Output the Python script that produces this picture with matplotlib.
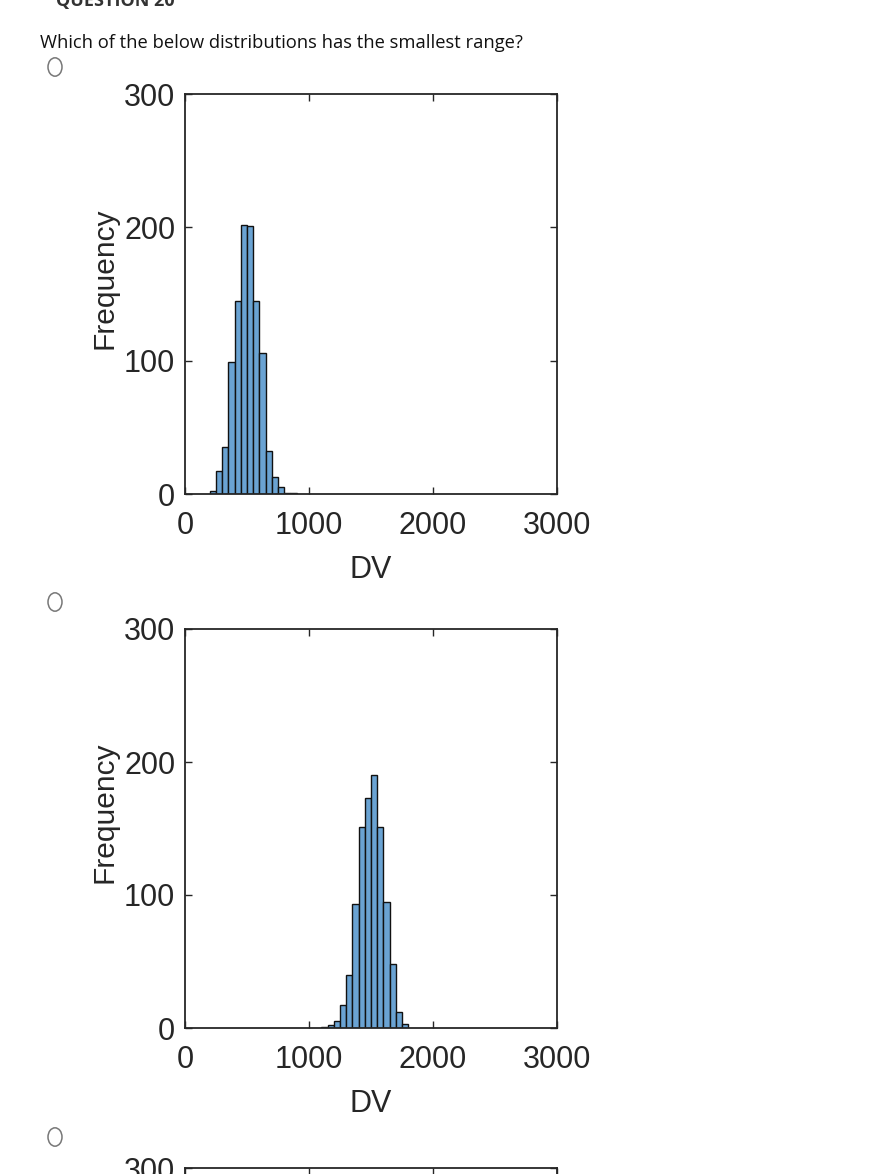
import numpy as np
import matplotlib.pyplot as plt
from matplotlib.patches import Circle

# Histogram data (bin width 50)
bin_width = 50
edges_a = [200, 250, 300, 350, 400, 450, 500, 550, 600, 650, 700, 750, 800, 850]
counts_a = [2, 17, 35, 99, 145, 202, 201, 145, 106, 32, 13, 5, 1, 1]

edges_b = [1100, 1150, 1200, 1250, 1300, 1350, 1400, 1450, 1500, 1550, 1600, 1650, 1700, 1750]
counts_b = [1, 2, 5, 17, 40, 93, 151, 173, 190, 151, 95, 48, 12, 3]

xticks = [0, 1000, 2000, 3000]
yticks = [0, 100, 200, 300]

question = 'Which of the below distributions has the smallest range?'
header = 'QUESTION 20'

W, H = 896, 1174
fig = plt.figure(figsize=(W / 100, H / 100), dpi=100)

def px_axes(left, top, right, bottom):
    return fig.add_axes([left / W, 1 - bottom / H, (right - left) / W, (bottom - top) / H])

def style_axes(ax, labels=True):
    ax.set_xlim(0, 3000)
    ax.set_ylim(0, 300)
    ax.set_xticks(xticks)
    ax.set_yticks(yticks)
    ax.tick_params(direction='in', length=5, width=1, top=True, right=True,
                   labelsize=22, colors='#262626')
    ax.tick_params(axis='x', pad=12)
    ax.tick_params(axis='y', pad=7)
    for lab in ax.get_xticklabels() + ax.get_yticklabels():
        lab.set_fontfamily('Liberation Sans')
    for s in ax.spines.values():
        s.set_color('#262626')
        s.set_linewidth(1.3)
    if labels:
        ax.set_xlabel('DV', fontsize=22, family='Liberation Sans', color='#262626')
        ax.set_ylabel('Frequency', fontsize=21.5, family='Liberation Sans', color='#262626')
        ax.xaxis.set_label_coords(0.5, -0.152)
        ax.yaxis.set_label_coords(-0.18, 0.54)
    else:
        # only the top of this panel is on the page
        ax.tick_params(axis='x', labelbottom=False)
        ax.set_yticklabels(['', '', '', '300'], family='Liberation Sans')

bar_color = '#6aa3d3'

ax1 = px_axes(185, 94, 557, 494)
ax1.bar(edges_a, counts_a, width=bin_width, align='edge', color=bar_color,
        edgecolor='#111111', linewidth=1.0)
style_axes(ax1)

ax2 = px_axes(185, 629, 557, 1028)
ax2.bar(edges_b, counts_b, width=bin_width, align='edge', color=bar_color,
        edgecolor='#111111', linewidth=1.0)
style_axes(ax2)

# third option, cut off by the bottom of the page
ax3 = px_axes(185, 1168, 557, 1568)
style_axes(ax3, labels=False)

# page text
fig.text(40 / W, 1 - 48 / H, question, fontsize=13.2, family='Open Sans', color='#111111')
fig.text(56 / W, 1 - 6 / H, header, fontsize=13, family='Open Sans', weight='bold',
         color='#333333', va='baseline')

# radio buttons
for cy in [67, 602, 1137]:
    fig.patches.append(Circle((55 / W, 1 - cy / H), 7 / W, transform=fig.transFigure,
                              facecolor='white', edgecolor='#777777', linewidth=1.1))

fig.savefig('out.png', dpi=100)
